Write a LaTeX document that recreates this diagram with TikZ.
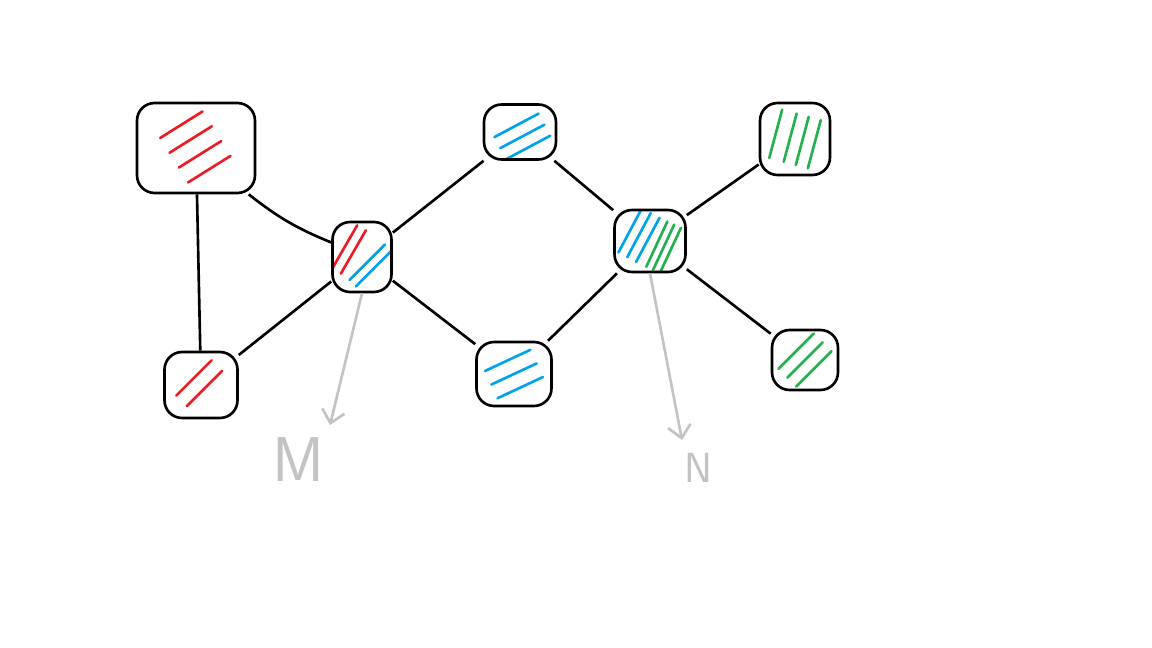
\documentclass[tikz,border=0pt]{standalone}
\usepackage{tikz}
\usetikzlibrary{arrows.meta,positioning,calc}
\definecolor{pred}{HTML}{ED1C24}
\definecolor{pblue}{HTML}{00A2E8}
\definecolor{pgreen}{HTML}{22B14C}
\definecolor{pgray}{HTML}{C3C3C3}
% colour strokes inside a blob: colour, tilt, offsets
\newcommand{\strokeset}[3]{%
  \foreach \k in {#3}
    \draw[#1,line width=1.5pt,line cap=round]
      ($(path picture bounding box.center)+(#2:\k cm)+(270+#2:0.5cm)$) --
      ($(path picture bounding box.center)+(#2:\k cm)+(90+#2:0.5cm)$);}

\begin{document}
\begin{tikzpicture}[x=0.02cm,y=-0.02cm,>=Latex,
  blob/.style={draw,line width=1.5pt,rounded corners=10pt,inner sep=0pt},
  link/.style={line width=1.5pt},
  pointer/.style={draw=pgray,line width=1.5pt,-{Straight Barb[length=7pt,width=13pt]}},
  tag/.style={text=pgray,font=\sffamily}]
\useasboundingbox (0,0) rectangle (1152,648);

\node[blob,minimum width=2.36cm,minimum height=1.8cm,
  path picture={\strokeset{pred}{-58}{-0.55,-0.2,0.15,0.5}}] (A) at (196,148) {};
\node[blob,minimum width=1.46cm,minimum height=1.32cm,
  path picture={\strokeset{pred}{-45}{-0.2,0.1}}] (B) at (201,385) {};
\node[blob,minimum width=1.18cm,minimum height=1.4cm,
  path picture={\strokeset{pred}{-30}{-0.4,-0.2}\strokeset{pblue}{-45}{0.15,0.33}}] (C) at (362,257) {};
\node[blob,minimum width=1.44cm,minimum height=1.1cm,
  path picture={\strokeset{pblue}{-62}{-0.15,0.1,0.35}}] (D) at (520,132) {};
\node[blob,minimum width=1.5cm,minimum height=1.28cm,
  path picture={\strokeset{pblue}{-65}{-0.3,0,0.3}}] (E) at (514,374) {};
\node[blob,minimum width=1.42cm,minimum height=1.24cm,
  path picture={\strokeset{pblue}{-28}{-0.45,-0.25,-0.05}\strokeset{pgreen}{-25}{0.15,0.3,0.45}}] (F) at (650,241) {};
\node[blob,minimum width=1.4cm,minimum height=1.44cm,
  path picture={\strokeset{pgreen}{-15}{-0.4,-0.1,0.15,0.4}}] (G) at (795,139) {};
\node[blob,minimum width=1.32cm,minimum height=1.2cm,
  path picture={\strokeset{pgreen}{-45}{-0.25,0,0.25}}] (H) at (805,360) {};

\draw[link] (A) -- (B);
\draw[link] (A) to[bend right=8] (C);
\draw[link] (B) -- (C);
\draw[link] (C) -- (D);
\draw[link] (C) -- (E);
\draw[link] (D) -- (F);
\draw[link] (E) -- (F);
\draw[link] (F) -- (G);
\draw[link] (F) -- (H);

\coordinate (mtip) at (330,425);
\coordinate (ntip) at (682,440);
\node[tag,font=\sffamily\fontsize{36}{38}\selectfont] (M) at (298,460) {M};
\node[tag,font=\sffamily\fontsize{24}{26}\selectfont] (N) at (698,468) {N};
\draw[pointer] (C.south) -- (mtip);
\draw[pointer] (F.south) -- (ntip);
\end{tikzpicture}
\end{document}
